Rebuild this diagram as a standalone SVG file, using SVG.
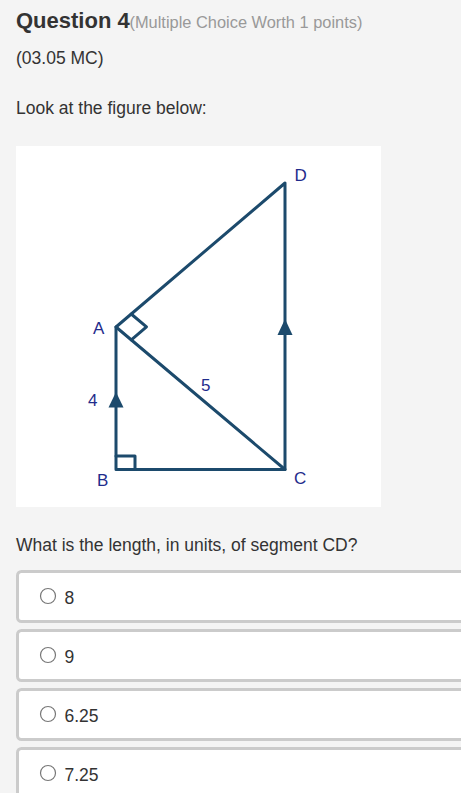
<svg xmlns="http://www.w3.org/2000/svg" width="461" height="793" viewBox="0 0 461 793">
<style>
.txt{font-family:"Liberation Sans",Arial,sans-serif;fill:#333;font-size:17.5px}
.lbl{font-family:"Liberation Sans",Arial,sans-serif;fill:#1f2c8c;font-size:17px}
.seg{stroke:#1c4a6c;stroke-width:3;fill:none;stroke-linejoin:round;stroke-linecap:round}
.box{fill:#fff;stroke:#cbcbcb;stroke-width:3}
.radio{fill:#fff;stroke:#777;stroke-width:1.2}
.arr{fill:#1c4a6c}
</style>
<rect x="0" y="0" width="461" height="793" fill="#f4f4f4"/>
<g id="header">
<text x="16" y="28" font-family="Liberation Sans,Arial,sans-serif" font-size="22" font-weight="bold" fill="#333">Question 4</text>
<text x="129.5" y="28" font-family="Liberation Sans,Arial,sans-serif" font-size="16.4" fill="#999">(Multiple Choice Worth 1 points)</text>
<text class="txt" x="16" y="63.5">(03.05 MC)</text>
<text class="txt" x="16" y="114">Look at the figure below:</text>
</g>
<g id="figure">
<rect x="16" y="146" width="365" height="361" fill="#fff"/>
<g id="connectors">
<path class="seg" d="M116,327 L285,183 L285,469.5 L116,469.5 Z"/>
<path class="seg" d="M116,327 L285,469.5"/>
<path class="seg" d="M131.2,314 L146.5,326.9 L131.3,339.9"/>
<path class="seg" d="M116,456 L135,456 L135,469.5"/>
<polygon class="arr" points="116,392 123.5,407.5 108.5,407.5"/>
<polygon class="arr" points="285,319 292.5,335 277.5,335"/>
</g>
<g id="node-A"><text class="lbl" x="93" y="333.5">A</text></g>
<g id="node-B"><text class="lbl" x="97" y="486">B</text></g>
<g id="node-C"><text class="lbl" x="294" y="483.5">C</text></g>
<g id="node-D"><text class="lbl" x="294.5" y="181">D</text></g>
<g id="label-4"><text class="lbl" x="88" y="406">4</text></g>
<g id="label-5"><text class="lbl" x="201" y="390.5">5</text></g>
</g>
<g id="question">
<text class="txt" x="16" y="551">What is the length, in units, of segment CD?</text>
</g>
<g id="option-1">
<rect class="box" x="17.5" y="571.5" width="460" height="50" rx="4"/>
<circle class="radio" cx="48" cy="596" r="7.5"/>
<text class="txt" x="64.5" y="603.5">8</text>
</g>
<g id="option-2">
<rect class="box" x="17.5" y="630.5" width="460" height="50" rx="4"/>
<circle class="radio" cx="48" cy="655" r="7.5"/>
<text class="txt" x="64.5" y="662.5">9</text>
</g>
<g id="option-3">
<rect class="box" x="17.5" y="689.5" width="460" height="50" rx="4"/>
<circle class="radio" cx="48" cy="714" r="7.5"/>
<text class="txt" x="64.5" y="721.5">6.25</text>
</g>
<g id="option-4">
<rect class="box" x="17.5" y="748.5" width="460" height="50" rx="4"/>
<circle class="radio" cx="48" cy="773" r="7.5"/>
<text class="txt" x="64.5" y="780.5">7.25</text>
</g>
</svg>
